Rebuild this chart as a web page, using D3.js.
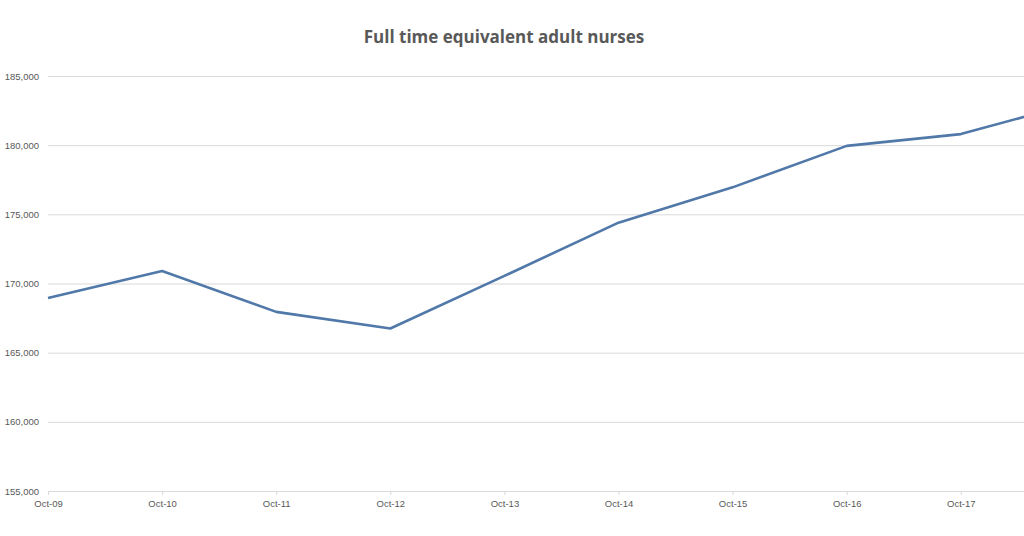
<!DOCTYPE html>
<html lang="en">
<head>
    <meta charset="UTF-8">
    <title>Full time equivalent adult nurses</title>
    <style>
        body {
            margin: 0;
            background: #fff;
            font-family: "Open Sans", Arial, sans-serif;
        }
        .tick text {
            fill: #595959;
            font-size: 9.5px;
        }
        .title {
            font-size: 17px;
            font-weight: bold;
            fill: #595959;
        }
    </style>
</head>
<body>
    <div id="chart"></div>

    <script src="https://d3js.org/d3.v7.min.js"></script>
    <script>
        // Data (last point lies past the right edge)
        const months = ['Oct-09', 'Oct-10', 'Oct-11', 'Oct-12', 'Oct-13', 'Oct-14', 'Oct-15', 'Oct-16', 'Oct-17', 'Oct-18'];
        const nurses = [168950, 170900, 167950, 166750, 170550, 174400, 176950, 179950, 180800, 183050];
        const yTicks = [155000, 160000, 165000, 170000, 175000, 180000, 185000];

        const W = 1024, H = 536;
        const plotLeft = 48, plotTop = 76, plotBottom = 491;
        const step = 114.1;

        const svg = d3.select('#chart')
            .append('svg')
            .attr('width', W)
            .attr('height', H);

        const x = d3.scaleLinear()
            .domain([0, 1])
            .range([plotLeft, plotLeft + step]);

        const y = d3.scaleLinear()
            .domain([155000, 185000])
            .range([plotBottom, plotTop]);

        // gridlines + y labels
        const yAxis = svg.append('g')
            .attr('transform', `translate(${plotLeft},0)`)
            .call(d3.axisLeft(y)
                .tickValues(yTicks)
                .tickSize(-(W - plotLeft))
                .tickPadding(9)
                .tickFormat(d3.format(',')));
        yAxis.select('.domain').remove();
        yAxis.selectAll('.tick line')
            .attr('stroke', '#d9d9d9')
            .attr('stroke-width', 1);

        // x axis
        const xAxis = svg.append('g')
            .attr('transform', `translate(0,${plotBottom})`)
            .call(d3.axisBottom(x)
                .tickValues(d3.range(months.length - 1))
                .tickSize(4)
                .tickPadding(3)
                .tickFormat(i => months[i]));
        xAxis.select('.domain')
            .attr('d', `M${plotLeft},0.5H${W}`)
            .attr('stroke', '#d9d9d9');
        xAxis.selectAll('.tick line')
            .attr('stroke', '#d9d9d9');
        xAxis.selectAll('.tick text').attr('dy', '0.9em');

        svg.append('clipPath')
            .attr('id', 'clip')
            .append('rect')
            .attr('x', 0).attr('y', 0)
            .attr('width', W).attr('height', H);

        const line = d3.line()
            .x((d, i) => x(i))
            .y(d => y(d));

        svg.append('path')
            .datum(nurses)
            .attr('clip-path', 'url(#clip)')
            .attr('d', line)
            .attr('fill', 'none')
            .attr('stroke', '#5078a8')
            .attr('stroke-width', 2.6)
            .attr('stroke-linejoin', 'round');

        svg.append('text')
            .attr('class', 'title')
            .attr('x', 504)
            .attr('y', 43)
            .attr('text-anchor', 'middle')
            .text('Full time equivalent adult nurses');
    </script>
</body>
</html>
